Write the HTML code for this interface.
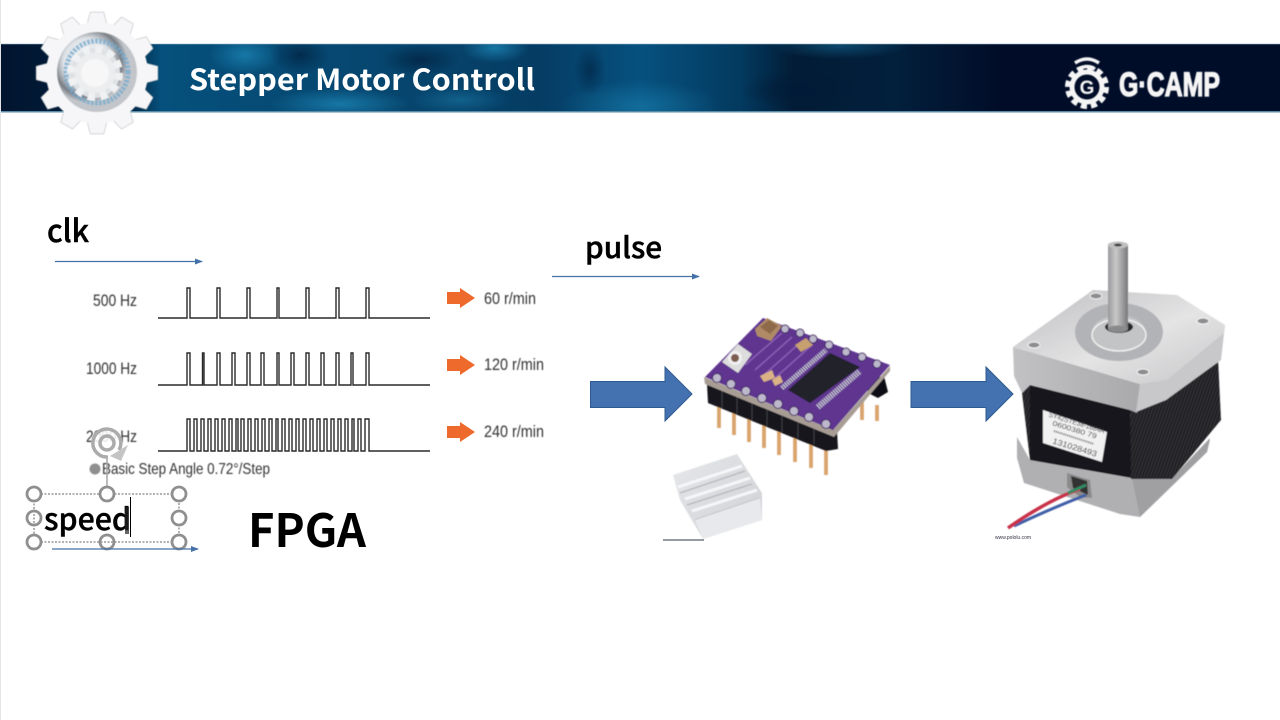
<!DOCTYPE html>
<html><head><meta charset="utf-8"><style>
html,body{margin:0;padding:0;background:#fff;width:1280px;height:720px;overflow:hidden}
svg{display:block}
.k{font-family:"Liberation Sans","Noto Sans CJK KR",sans-serif;font-weight:700}
.n{font-family:"Noto Sans CJK KR","Liberation Sans",sans-serif}
.w{font-family:"Liberation Sans",sans-serif;fill:#333}
</style></head><body>
<svg width="1280" height="720" viewBox="0 0 1280 720" xmlns="http://www.w3.org/2000/svg">
<defs>
<clipPath id="hc"><rect x="1" y="44" width="1279" height="68"/></clipPath>
<linearGradient id="hd" x1="0" x2="1" y1="0" y2="0">
<stop offset="0" stop-color="#01142f"/><stop offset=".1" stop-color="#01233f"/><stop offset=".125" stop-color="#05507c"/>
<stop offset=".33" stop-color="#06446c"/><stop offset=".42" stop-color="#053c63"/><stop offset=".5" stop-color="#06517f"/>
<stop offset=".58" stop-color="#03395e"/><stop offset=".62" stop-color="#021c36"/><stop offset=".7" stop-color="#021f3c"/>
<stop offset=".78" stop-color="#010d28"/><stop offset="1" stop-color="#000d29"/>
</linearGradient>
<radialGradient id="bl"><stop offset="0" stop-color="#1a7fae" stop-opacity=".85"/><stop offset="1" stop-color="#1a7fae" stop-opacity="0"/></radialGradient>
<radialGradient id="dk"><stop offset="0" stop-color="#011a38" stop-opacity=".9"/><stop offset="1" stop-color="#011a38" stop-opacity="0"/></radialGradient>
<radialGradient id="hub" cx=".38" cy=".38"><stop offset="0" stop-color="#f7f7f8"/><stop offset=".6" stop-color="#dfe3e7"/><stop offset=".85" stop-color="#777d84"/><stop offset="1" stop-color="#c2c5c9"/></radialGradient>
<linearGradient id="silv" x1="0" x2="1" y1="0" y2="1"><stop offset="0" stop-color="#e6e7e9"/><stop offset="1" stop-color="#cfd1d5"/></linearGradient>
<linearGradient id="shaft" x1="0" x2="1"><stop offset="0" stop-color="#9a9a9c"/><stop offset=".4" stop-color="#c8c8c8"/><stop offset="1" stop-color="#78787b"/></linearGradient>
<linearGradient id="topf" x1="0" y1="0" x2="1" y2="1"><stop offset="0" stop-color="#bdbdc0"/><stop offset=".55" stop-color="#e4e4e5"/><stop offset="1" stop-color="#c6c6c8"/></linearGradient>
<linearGradient id="lf" x1="0" y1="0" x2="1" y2="0"><stop offset="0" stop-color="#c2c2c4"/><stop offset="1" stop-color="#a9a9ac"/></linearGradient>
<pattern id="rib" width="3" height="3" patternUnits="userSpaceOnUse" patternTransform="rotate(20)"><rect width="3" height="3" fill="#2e2e31"/><rect width="1" height="3" fill="#18181a"/></pattern>
<filter id="s"><feGaussianBlur stdDeviation=".5"/></filter>
<marker id="ah" markerWidth="8" markerHeight="6" refX="7" refY="3" orient="auto" markerUnits="userSpaceOnUse"><path d="M0 0L8 3L0 6Z" fill="#4472a8"/></marker>
<path id="tt" d="M-9.500 -49L-6.500 -60.500H6.500L9.500 -49Z"/>
<g id="teeth">
<use href="#tt" transform="rotate(0)"/><use href="#tt" transform="rotate(30)"/><use href="#tt" transform="rotate(60)"/><use href="#tt" transform="rotate(90)"/><use href="#tt" transform="rotate(120)"/><use href="#tt" transform="rotate(150)"/><use href="#tt" transform="rotate(180)"/><use href="#tt" transform="rotate(210)"/><use href="#tt" transform="rotate(240)"/><use href="#tt" transform="rotate(270)"/><use href="#tt" transform="rotate(300)"/><use href="#tt" transform="rotate(330)"/>
</g>
</defs>
<rect width="1280" height="720" fill="#fff"/>
<rect x="0" y="0" width="1" height="720" fill="#e4e4e4"/>

<!-- header -->
<rect x="1" y="44" width="1279" height="68" fill="url(#hd)"/>
<g clip-path="url(#hc)">
<ellipse cx="245" cy="55" rx="36" ry="20" fill="url(#bl)"/>
<ellipse cx="340" cy="104" rx="70" ry="16" fill="url(#bl)"/>
<ellipse cx="495" cy="48" rx="34" ry="15" fill="url(#bl)"/>
<ellipse cx="460" cy="100" rx="50" ry="14" fill="url(#bl)" opacity=".6"/>
<ellipse cx="640" cy="106" rx="80" ry="26" fill="url(#bl)" opacity=".7"/>
<ellipse cx="840" cy="46" rx="70" ry="13" fill="url(#bl)" opacity=".5"/>
<ellipse cx="300" cy="55" rx="30" ry="20" fill="url(#dk)" opacity=".7"/>
<ellipse cx="420" cy="60" rx="40" ry="16" fill="url(#dk)" opacity=".7"/>
<ellipse cx="590" cy="70" rx="16" ry="26" fill="url(#dk)" opacity=".6"/>
<ellipse cx="800" cy="90" rx="60" ry="20" fill="url(#dk)"/>
</g>
<rect x="1" y="43.500" width="1279" height="1" fill="#8fb0c4" opacity=".6"/>
<rect x="1" y="111" width="1279" height="1.500" fill="#5a8ba6"/>

<!-- large gear -->
<g filter="url(#s)">
<g transform="translate(97 73)">
<use href="#teeth" fill="#b9bcc0" stroke="#b9bcc0" stroke-width="1.200"/>
<circle r="51" fill="#f6f6f8"/>
<use href="#teeth" fill="#f6f6f8"/>
</g>
<circle cx="97" cy="72" r="40" fill="url(#hub)"/>
<circle cx="97" cy="72" r="31" fill="none" stroke="#75abd0" stroke-width="5" stroke-dasharray="2.500 1.500" opacity=".8"/>
<circle cx="95" cy="73" r="25" fill="#dfe2e5"/>
<circle cx="95" cy="73" r="24" fill="none" stroke="#f0f1f2" stroke-width="8" stroke-dasharray="7 5.570"/>
<circle cx="95" cy="73" r="20" fill="#ecedef"/>
<circle cx="95" cy="73" r="14" fill="#f7f7f8"/>
</g>
<text class="n" x="189" y="90" font-size="29" font-weight="700" fill="#fff" textLength="346" lengthAdjust="spacingAndGlyphs">Stepper Motor Controll</text>

<!-- G-CAMP -->
<g filter="url(#s)">
<circle cx="1087" cy="87" r="15" fill="none" stroke="#f5f5f5" stroke-width="5"/>
<circle cx="1087" cy="87" r="19" fill="none" stroke="#f5f5f5" stroke-width="6" stroke-dasharray="6 3.950"/>
<text class="k" x="1087" y="94" font-size="19" fill="#f5f5f5" text-anchor="middle">G</text>
<path d="M1079 69Q1087 64 1095 69M1075 63Q1087 55 1099 63" fill="none" stroke="#f5f5f5" stroke-width="3.500"/>
<text class="k" x="1119" y="96" font-size="34" fill="#f5f5f5" stroke="#f5f5f5" stroke-width="1.300" textLength="101" lengthAdjust="spacingAndGlyphs">G·CAMP</text>
</g>

<!-- labels -->
<text class="n" x="47" y="242" font-size="31" font-weight="500" fill="#000" stroke="#000" stroke-width=".5" textLength="42" lengthAdjust="spacingAndGlyphs">clk</text>
<line x1="55" y1="261.500" x2="202" y2="261.500" stroke="#4472a8" stroke-width="1.200" marker-end="url(#ah)"/>
<text class="n" x="585" y="258" font-size="29" font-weight="500" fill="#000" stroke="#000" stroke-width=".5" textLength="77" lengthAdjust="spacingAndGlyphs">pulse</text>
<line x1="552" y1="276.500" x2="699" y2="276.500" stroke="#4472a8" stroke-width="1.200" marker-end="url(#ah)"/>
<text class="n" x="248" y="547" font-size="46" font-weight="700" fill="#000" textLength="118" lengthAdjust="spacingAndGlyphs">FPGA</text>

<!-- waveforms -->
<g fill="none" stroke="#2a2a2a" stroke-width="1.400">
<path d="M158 318H187V288H190V318H217V288H220V318H247V288H250V318H277V288H279V318H306V288H309V318H336V288H339V318H366V288H369V318H430"/>
<path d="M158 385H187V353H190V385H202.500V353H204V385H217V353H220V385H232V353H235V385H247V353H250V385H261V353H264V385H277V353H279V385H291V353H294V385H306V353H309V385H321V353H324V385H336V353H339V385H351V353H353V385H366V353H369V385H430"/>
<path d="M158 451H187V419H190V451H194V419H197V451H201V419H204V451H208V419H211V451H215V419H218V451H222V419H225V451H229V419H232V451H236V419H238V451H241V419H244V451H248V419H251V451H255V419H258V451H262V419H265V451H269V419H272V451H276V419H278V451H282V419H285V451H289V419H292V451H296V419H299V451H303V419H306V451H310V419H313V451H317V419H320V451H324V419H327V451H331V419H334V451H338V419H341V451H345V419H348V451H352V419H354V451H358V419H361V451H365V419H369V451H430"/>
</g>
<g filter="url(#s)">
<text class="w" x="93" y="306" font-size="17" textLength="44" lengthAdjust="spacingAndGlyphs">500 Hz</text>
<text class="w" x="86" y="374" font-size="17" textLength="51" lengthAdjust="spacingAndGlyphs">1000 Hz</text>
<text class="w" x="86" y="442" font-size="17" textLength="51" lengthAdjust="spacingAndGlyphs">2000 Hz</text>
<text class="w" x="484" y="304" font-size="17" textLength="52" lengthAdjust="spacingAndGlyphs">60 r/min</text>
<text class="w" x="484" y="370" font-size="17" textLength="60" lengthAdjust="spacingAndGlyphs">120 r/min</text>
<text class="w" x="484" y="437" font-size="17" textLength="60" lengthAdjust="spacingAndGlyphs">240 r/min</text>
<text class="w" x="102" y="474" font-size="16" textLength="168" lengthAdjust="spacingAndGlyphs">Basic Step Angle 0.72°/Step</text>
<circle cx="95" cy="469" r="5.500" fill="#8f8f8f"/>
</g>
<g fill="#ee6a2c">
<path d="M447 292H460V288L475 298L460 308V304H447Z"/>
<path d="M447 359H460V355L475 365L460 375V371H447Z"/>
<path d="M447 426H460V422L475 432L460 442V438H447Z"/>
</g>

<!-- selection box -->
<rect x="34" y="494" width="145" height="48" fill="none" stroke="#666" stroke-width="1" stroke-dasharray="2 1.500"/>
<line x1="107" y1="456" x2="107" y2="487" stroke="#a6a6a6" stroke-width="1.500"/>
<g fill="none" stroke="#ababab" stroke-width="3.500">
<path d="M119 450A14 14 0 1 0 108 457" fill="#fff" fill-opacity=".85"/><circle cx="107" cy="443" r="7"/>
</g>
<path d="M110 456L128 445L121 461Z" fill="#c4c4c4"/>
<text class="n" x="44" y="530" font-size="30" font-weight="500" fill="#000" stroke="#000" stroke-width=".4" textLength="87" lengthAdjust="spacingAndGlyphs">speed</text>
<line x1="130.500" y1="497" x2="130.500" y2="537" stroke="#000" stroke-width="1"/>
<rect x="125" y="507" width="4" height="27" fill="#222" opacity=".7"/>
<g fill="#fff" stroke="#8f8f8f" stroke-width="2.800">
<circle cx="34" cy="494" r="7"/><circle cx="107" cy="494" r="7"/><circle cx="179" cy="494" r="7"/>
<circle cx="34" cy="518" r="7" fill="none"/><circle cx="179" cy="518" r="7"/>
<circle cx="34" cy="542" r="7"/><circle cx="107" cy="542" r="7" fill="none"/><circle cx="179" cy="542" r="7"/>
</g>
<line x1="52" y1="549" x2="198" y2="549" stroke="#4472a8" stroke-width="1.200" marker-end="url(#ah)"/>

<!-- block arrows -->
<g fill="#4472b0" stroke="#2f5a8f" stroke-width="1">
<path d="M590.500 381.500H665V367L692 394L665 421V407.500H590.500Z"/>
<path d="M911 381.500H986V367L1013 394L986 421V407.500H911Z"/>
</g>

<!-- driver board -->
<g filter="url(#s)">
<g stroke="#d9a46d" stroke-width="3.800">
<path d="M862 400V420M877 405V421"/>
<path d="M719 402V428M734 408V435M749 415V442M764 422V448M779 428V455M795 435V462M811 441V468M826 446V475"/>
</g>
<path d="M884 376L888 392L878 398L868 393L866 380Z" fill="#0e0e12"/>
<path d="M707 384L837 431L838 449L826 451L708 403Z" fill="#15151a"/>
<path d="M722 389V408M737 395V414M752 401V420M767 407V426M782 413V432M798 419V438M814 425V444" stroke="#3c3c44" stroke-width="1"/>
<path d="M704 377L833 430L890 366V371L834 437L705 384Z" fill="#a79d95"/>
<path d="M705 377L763 318L890 365L833 430Z" fill="#5e3590"/>
<path d="M745 365L782 333M755 370L792 337M765 374L802 341M775 378L812 345" stroke="#8f62b6" stroke-width="1.300" fill="none"/>
<path d="M788 390L830 353L860 367L810 403Z" fill="#23232b"/>
<path d="M782 388L826 350" stroke="#cfcfd8" stroke-width="5" stroke-dasharray="1.200 1.200" fill="none"/>
<path d="M818 407L860 371" stroke="#cfcfd8" stroke-width="6" stroke-dasharray="1.200 1.200" fill="none"/>
<path d="M722 362L738 344L752 354L738 373Z" fill="#ddd"/>
<circle cx="735" cy="358" r="7" fill="#f0f0f0"/><circle cx="735" cy="358" r="4" fill="#7c5c4f"/>
<path d="M755 329L767 318L782 326L771 341L757 336Z" fill="#b08a66"/>
<path d="M760 327L769 320L778 326L770 334Z" fill="#8e6a4c"/>
<path d="M795 345L806 338L813 345L801 352Z" fill="#c7a06f"/>
<path d="M760 376L772 370L775 378L764 382ZM772 380L780 375L783 382L775 386Z" fill="#dbb285"/>
<g fill="#bdb8cb" stroke="#3d2360" stroke-width="1">
<circle cx="717" cy="378" r="4.500"/><circle cx="731" cy="384" r="4.500"/><circle cx="746" cy="391" r="4.500"/><circle cx="762" cy="398" r="4.500"/><circle cx="778" cy="404" r="4.500"/><circle cx="794" cy="411" r="4.500"/><circle cx="809" cy="417" r="4.500"/><circle cx="826" cy="424" r="4.500"/>
<circle cx="785" cy="329" r="4"/><circle cx="800" cy="333" r="4"/><circle cx="813" cy="339" r="4"/><circle cx="829" cy="345" r="4"/><circle cx="846" cy="352" r="4"/><circle cx="862" cy="357" r="4"/><circle cx="877" cy="364" r="4"/>
</g>
<!-- heat sink -->
<path d="M673 475L737 454L762 493V520L703 539L680 500Z" fill="url(#silv)"/>
<path d="M678 487L742 466M685 499L750 478M692 511L757 490" stroke="#f7f7f9" stroke-width="3" fill="none"/>
<path d="M680 493L745 471M687 505L752 484M695 520L760 498" stroke="#b4b6bc" stroke-width="1.300" fill="none"/>
<path d="M703 539L695 520L760 498L762 520Z" fill="#e8e9ec"/>
</g>
<line x1="663" y1="540" x2="704" y2="540" stroke="#55606b" stroke-width="1.200"/>

<!-- motor -->
<g filter="url(#s)">
<!-- bottom block -->
<path d="M1017 437L1030 460L1132 478L1172 478L1210 440L1207 452L1140 517L1120 514L1024 483L1017 458Z" fill="#b0b0b3"/>
<path d="M1132 478L1172 478L1210 438L1207 452L1140 517Z" fill="#a0a0a3"/>
<!-- black body -->
<path d="M1022 393L1030 385L1130 410L1132 478L1030 460Z" fill="url(#rib)"/>
<path d="M1030 385L1130 410L1132 478L1030 460Z" fill="#18181a"/>
<path d="M1130 408L1166 400L1218 358L1221 420L1172 479L1131 479Z" fill="url(#rib)"/>
<path d="M1067 473L1090 480L1092 498L1080 497L1067 487Z" fill="#8a8a8a"/>
<path d="M1071 476L1087 481L1088 495L1073 488Z" fill="#333"/>
<!-- top block -->
<path d="M1013 347L1140 384L1137 413L1130 410L1030 385L1022 393L1014 376Z" fill="url(#lf)"/>
<path d="M1140 384L1225 325L1221 360L1166 400L1136 412Z" fill="#c8c8ca"/>
<path d="M1013 347L1093 290L1177 295L1225 325L1224 333L1167 380L1140 384Z" fill="url(#topf)"/>
<ellipse cx="1119" cy="332" rx="44" ry="29" fill="#b2b3b6"/>
<ellipse cx="1119" cy="333" rx="27" ry="18" fill="#c3c4c6"/>
<ellipse cx="1119" cy="335" rx="27" ry="16" fill="none" stroke="#efefef" stroke-width="1.500"/>
<ellipse cx="1119" cy="327" rx="14" ry="6" fill="#26262a"/>
<rect x="1108" y="244" width="20" height="85" fill="url(#shaft)"/>
<ellipse cx="1118" cy="329" rx="10" ry="3.500" fill="#8a8a8c"/>
<ellipse cx="1118" cy="245" rx="10" ry="3.500" fill="#c0c0c0"/><ellipse cx="1118" cy="245" rx="4" ry="1.500" fill="#444"/>
<g fill="#8d8d90" stroke="#f2f2f2" stroke-width="1"><ellipse cx="1034" cy="345" rx="6" ry="3"/><ellipse cx="1096" cy="296" rx="6" ry="3"/><ellipse cx="1203" cy="321" rx="6" ry="3"/><ellipse cx="1143" cy="372" rx="6" ry="3"/></g>
<!-- label -->
<path d="M1043 410L1107 432L1102 462L1043 443Z" fill="#f1f1f1"/>
<g font-family="Liberation Sans,sans-serif" fill="#333" text-anchor="middle">
<text transform="translate(1076 425) rotate(17)" font-size="7" textLength="58" lengthAdjust="spacingAndGlyphs">SY42STE38-1684A</text>
<text transform="translate(1074 432) rotate(17)" font-size="7" textLength="46" lengthAdjust="spacingAndGlyphs">0600380 79</text>
<text transform="translate(1074 450) rotate(17)" font-size="8" textLength="46" lengthAdjust="spacingAndGlyphs">131028493</text>
</g>
<path d="M1054 431L1094 444" stroke="#555" stroke-width="2" stroke-dasharray="1 1"/>
<!-- wires -->
<path d="M1086 495Q1052 508 1014 526" stroke="#3f5fa8" stroke-width="3" fill="none"/>
<path d="M1080 489Q1048 500 1008 528" stroke="#c8324a" stroke-width="3.500" fill="none"/>
<path d="M1086 485L1068 493" stroke="#2f8b63" stroke-width="3" fill="none"/>
</g>
<text x="995" y="539" font-family="Liberation Sans,sans-serif" font-size="5.500" fill="#334" textLength="36" lengthAdjust="spacingAndGlyphs">www.pololu.com</text>
</svg>
</body></html>
